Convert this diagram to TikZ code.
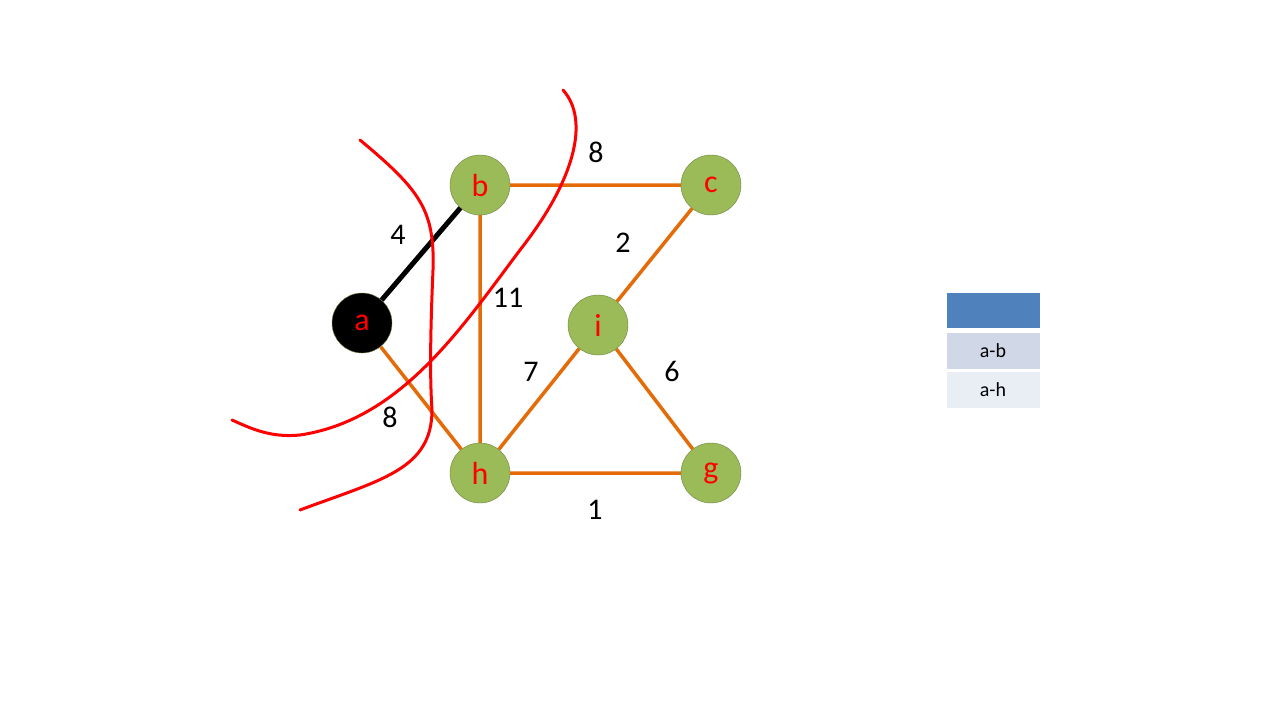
\documentclass[tikz,border=0pt]{standalone}
\usepackage{fontspec}
\setmainfont{Carlito}
\begin{document}
\begin{tikzpicture}[x=1pt,y=-1pt,
  vtx/.style={circle,minimum size=60pt,inner sep=0pt,text=red,font=\fontsize{32}{34}\selectfont},
  edg/.style={line width=3.5pt},
  wt/.style={font=\fontsize{30}{32}\selectfont},
  cut/.style={draw=red,line width=3pt,line cap=round}]
\useasboundingbox[fill=white] (0,0) rectangle (1280,720);
\definecolor{vg}{HTML}{9BBB59}
\definecolor{eo}{HTML}{E36C09}
\tikzset{vtx/.append style={fill=vg,draw=vg!70!black},edg/.append style={draw=eo}}
\node[vtx] (b) at (480,185) {b};
\node[vtx] (c) at (711,185) {c};
\node[vtx] (i) at (598,325) {i};
\node[vtx] (h) at (480,473) {h};
\node[vtx] (g) at (711,473) {g};
\node[vtx,fill=black] (a) at (362,323) {a};
\draw[edg] (b)--(c) (b)--(h) (c)--(i) (i)--(h) (i)--(g) (h)--(g) (a)--(h);
\draw[line width=5pt] (a)--(b);
\node[wt] (w1) at (398,235) {4};
\node[wt] (w2) at (596,152) {8};
\node[wt] (w3) at (623,243) {2};
\node[wt] (w4) at (508,298) {11};
\node[wt] (w5) at (531,372) {7};
\node[wt] (w6) at (672,371) {6};
\node[wt] (w7) at (390,417) {8};
\node[wt] (w8) at (595,510) {1};
\draw[cut] (360,140) .. controls (420,190) and (435,210) .. (433,270)
  .. controls (430,340) and (430,380) .. (432,410)
  .. controls (432,470) and (380,480) .. (300,510);
\draw[cut] (563,90) .. controls (590,120) and (575,180) .. (520,250)
  .. controls (460,330) and (400,420) .. (300,435)
  .. controls (270,438) and (250,428) .. (232,420);
\fill[color={rgb,255:red,79;green,129;blue,189}] (947,293) rectangle (1040,328);
\fill[color={rgb,255:red,208;green,216;blue,232}] (947,333) rectangle (1040,369);
\fill[color={rgb,255:red,233;green,237;blue,244}] (947,372) rectangle (1040,408);
\node[font=\fontsize{20}{22}\selectfont] (r1) at (993,351) {a-b};
\node[font=\fontsize{20}{22}\selectfont] (r2) at (993,390) {a-h};
\end{tikzpicture}
\end{document}
